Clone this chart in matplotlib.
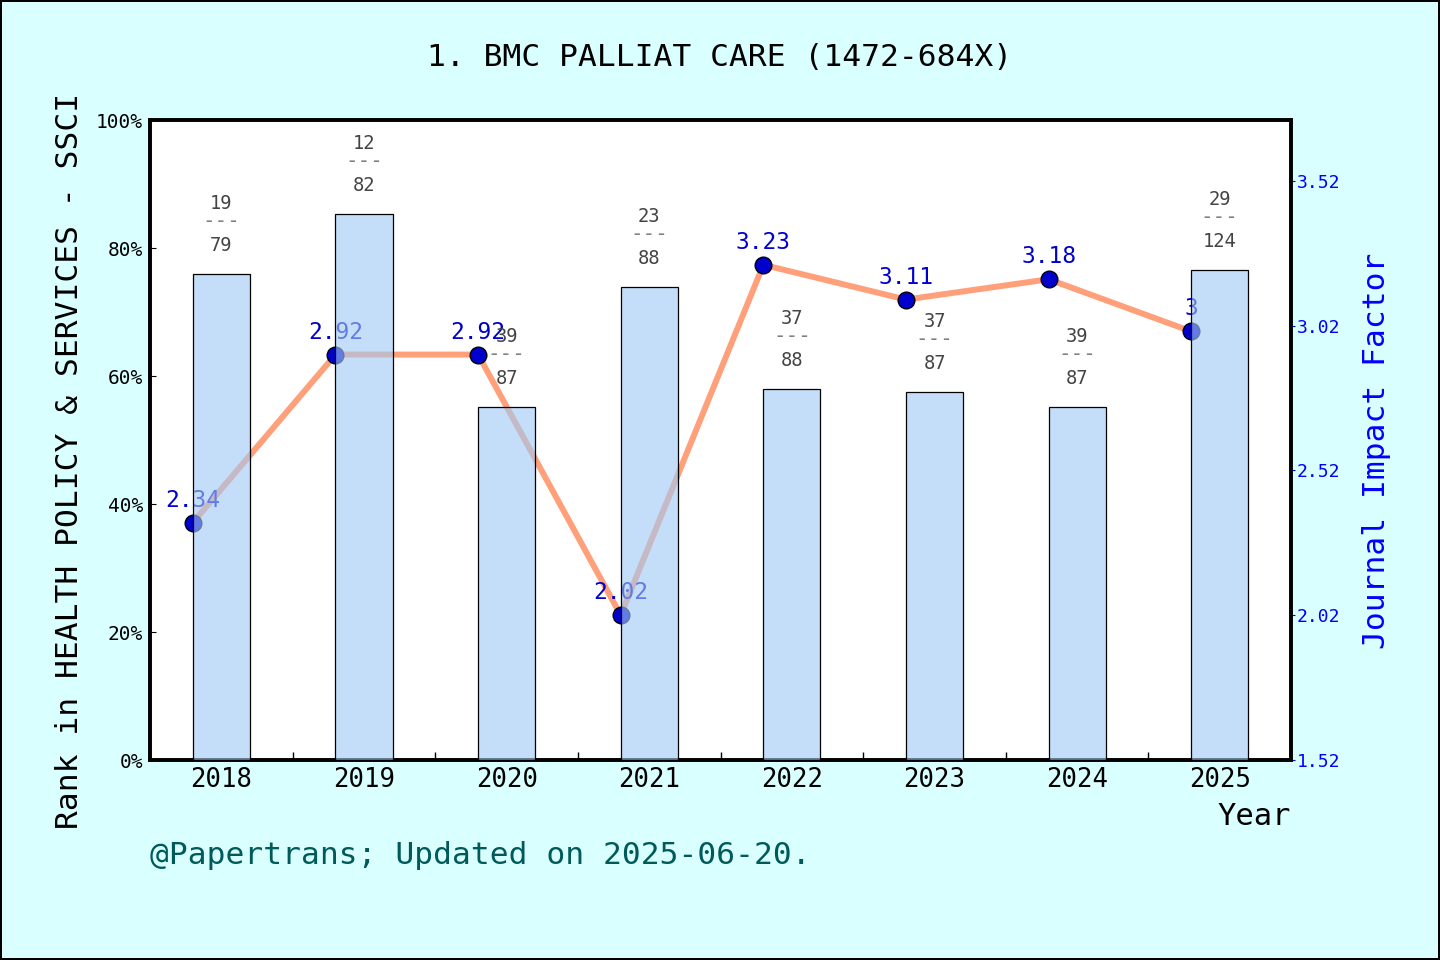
import matplotlib
matplotlib.use('Agg')
import matplotlib.pyplot as plt
import numpy as np
from matplotlib.colors import to_rgba
from matplotlib.ticker import FuncFormatter, FixedLocator

plt.rcParams['font.family'] = ['DejaVu Sans Mono']

# datos
years = ['2018', '2019', '2020', '2021', '2022', '2023', '2024', '2025']
rank = [19, 12, 39, 23, 37, 37, 39, 29]
total = [79, 82, 87, 88, 88, 87, 87, 124]
impact = [2.34, 2.92, 2.92, 2.02, 3.23, 3.11, 3.18, 3.0]
if_labels = ['2.34', '2.92', '2.92', '2.02', '3.23', '3.11', '3.18', '3']

title = '1. BMC PALLIAT CARE (1472-684X)'
category = 'HEALTH POLICY & SERVICES - SSCI'

x = np.arange(len(years))
bar_w = 0.4
pct = [1 - r / t for r, t in zip(rank, total)]
x_line = x - bar_w / 2

fig = plt.figure(figsize=(14.4, 9.6), dpi=100)
fig.patch.set_facecolor('#d9ffff')
fig.patch.set_edgecolor('black')
fig.patch.set_linewidth(1.5)

ax = fig.add_axes([0.1042, 0.2083, 0.7924, 0.6667])
ax.set_facecolor('white')
ax2 = ax.twinx()

# linea del factor de impacto (debajo de las barras)
ax.plot(x_line, impact, color='#FFA07A', lw=4.3, marker='o', ms=12,
        mfc='#0000CD', mec='black', mew=1, zorder=2)
for xi, v, lab in zip(x_line, impact, if_labels):
    ax.annotate(lab, (xi, v), xytext=(0, 11.5), textcoords='offset points',
                ha='center', va='baseline', fontsize=16.5, color='#0000CD')

ymin = min(impact) - 0.5
ymax = max(impact) + 0.5
ax.set_ylim(ymin, ymax)
ax.yaxis.set_major_locator(FixedLocator(np.arange(ymin, ymax, 0.5)))
ax.yaxis.set_major_formatter(FuncFormatter(lambda v, p: '%.2f' % v))
ax.yaxis.tick_right()
ax.tick_params(axis='y', direction='out', length=3, pad=1, colors='blue',
               labelsize=13)
ax.set_xlim(-0.5, len(years) - 0.5)
ax.set_xticks(x)
ax.set_xticklabels(years)
ax.set_xticks(x[:-1] + 0.5, minor=True)
ax.tick_params(axis='x', which='major', length=0, pad=5, labelsize=18.5)
ax.tick_params(axis='x', which='minor', direction='in', length=6, width=1)

# barras del ranking (encima, semitransparentes)
ax2.bar(x, pct, width=bar_w, facecolor=to_rgba('#a1c9f4', 0.62),
        edgecolor='black', linewidth=0.9, zorder=3)
for xi, h, r, t in zip(x, pct, rank, total):
    ax2.annotate(str(r), (xi, h), xytext=(0, 46.8), textcoords='offset points',
                 ha='center', va='baseline', fontsize=13.5, color='#444444')
    ax2.annotate('---', (xi, h), xytext=(0, 33.8), textcoords='offset points',
                 ha='center', va='baseline', fontsize=15, color='#808080')
    ax2.annotate(str(t), (xi, h), xytext=(0, 16.5), textcoords='offset points',
                 ha='center', va='baseline', fontsize=13.5, color='#444444')

ax2.set_ylim(0, 1)
ax2.set_yticks(np.linspace(0, 1, 6))
ax2.yaxis.set_major_formatter(FuncFormatter(lambda v, p: '%.0f%%' % (v * 100)))
ax2.yaxis.tick_left()
ax2.tick_params(axis='y', direction='in', length=4, pad=5, labelsize=14)

for a in (ax, ax2):
    for s in a.spines.values():
        s.set_linewidth(2.6)
        s.set_color('black')

ax2.set_ylabel('Rank in ' + category, fontsize=22.5, va='center')
ax2.yaxis.set_label_position('left')
ax2.yaxis.set_label_coords(-0.058, 0.467)
ax.set_ylabel('Journal Impact Factor', fontsize=22.5, color='blue', va='center')
ax.yaxis.set_label_position('right')
ax.yaxis.set_label_coords(1.062, 0.483)
ax.set_xlabel('Year', fontsize=22, ha='right', va='center')
ax.xaxis.set_label_coords(1.0, -0.089)

fig.text(0.5, 0.9406, title, ha='center', va='center', fontsize=22.5)
fig.text(150 / 1440, 1 - 855 / 960, '@Papertrans; Updated on 2025-06-20.',
         ha='left', va='center', fontsize=22.5, color='#005a5a')

plt.savefig('out.png', dpi=100)
plt.close(fig)
